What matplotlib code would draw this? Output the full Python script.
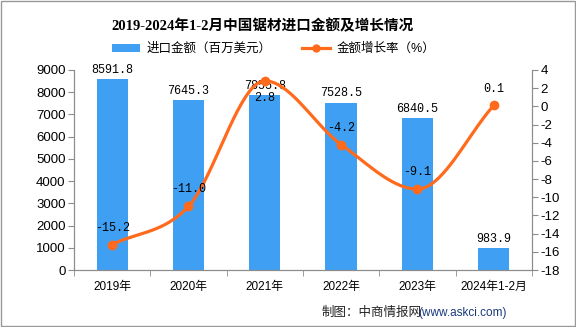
import numpy as np
import matplotlib
matplotlib.use("Agg")
import matplotlib.pyplot as plt
from matplotlib.patches import Patch, Rectangle
from matplotlib.lines import Line2D

plt.rcParams['font.family'] = ['Liberation Sans', 'Noto Sans CJK SC', 'DejaVu Sans']
plt.rcParams['axes.unicode_minus'] = False

categories = ["2019年", "2020年", "2021年", "2022年", "2023年", "2024年1-2月"]
import_value = [8591.8, 7645.3, 7855.8, 7528.5, 6840.5, 983.9]
growth_rate = [-15.2, -11.0, 2.8, -4.2, -9.1, 0.1]

BLUE = "#3f9ff2"
ORANGE = "#ff6a1c"
GRAY = "#8c8c8c"
MONO = ['Liberation Mono', 'Noto Sans CJK SC']


# smooth curve through the points, flat at local peaks/valleys
def smooth(xs, ys, n=40):
    xs = np.asarray(xs, float)
    ys = np.asarray(ys, float)
    m = np.zeros(len(ys))
    for i in range(len(ys)):
        if i == 0:
            m[i] = ys[1] - ys[0]
        elif i == len(ys) - 1:
            m[i] = ys[-1] - ys[-2]
        elif (ys[i] - ys[i - 1]) * (ys[i + 1] - ys[i]) <= 0:
            m[i] = 0
        else:
            m[i] = (ys[i + 1] - ys[i - 1]) / 2
    px, py = [], []
    for i in range(len(ys) - 1):
        t = np.linspace(0, 1, n)
        h00 = 2 * t**3 - 3 * t**2 + 1
        h10 = t**3 - 2 * t**2 + t
        h01 = -2 * t**3 + 3 * t**2
        h11 = t**3 - t**2
        px.extend(xs[i] + t * (xs[i + 1] - xs[i]))
        py.extend(h00 * ys[i] + h10 * m[i] + h01 * ys[i + 1] + h11 * m[i + 1])
    return np.array(px), np.array(py)


fig = plt.figure(figsize=(5.76, 3.27), dpi=100)
ax = fig.add_axes([0.1285, 0.1743, 0.795, 0.6117])
ax2 = ax.twinx()

x = np.arange(len(categories))
bars = ax.bar(x, import_value, width=0.41, color=BLUE, zorder=2)
for xi, v in zip(x, import_value):
    ax.text(xi, v + 150, f"{v:.1f}", ha='center', va='bottom', fontsize=8.5,
            family=MONO, color='black')

sx, sy = smooth(x, growth_rate)
ax2.plot(sx, sy, color=ORANGE, lw=2.3, zorder=3, solid_capstyle='round')
ax2.plot(x, growth_rate, 'o', color=ORANGE, ms=6, zorder=4)
for xi, v in zip(x, growth_rate):
    if v == 2.8:
        ax2.text(xi, v - 1.2, f"{v:.1f}", ha='center', va='top', fontsize=8.5,
                 family=MONO, color='black')
    else:
        ax2.text(xi, v + 1.2, f"{v:.1f}", ha='center', va='bottom', fontsize=8.5,
                 family=MONO, color='black')

ax.set_xlim(-0.5, len(categories) - 0.5)
ax.set_ylim(0, 9000)
ax.set_yticks(np.arange(0, 9001, 1000))
ax2.set_ylim(-18, 4)
ax2.set_yticks(np.arange(-18, 5, 2))

ax.set_xticks(x)
ax.set_xticklabels(categories, fontsize=8.5)
ax.set_xticks(np.arange(-0.5, len(categories), 1), minor=True)
ax.tick_params(axis='x', which='major', length=0, pad=8)
ax.tick_params(axis='x', which='minor', length=4, color=GRAY)
ax.tick_params(axis='y', labelsize=9.5, length=4, color=GRAY, pad=2)
ax2.tick_params(axis='y', labelsize=9.5, length=4, color=GRAY, pad=2)

for a in (ax, ax2):
    for s in a.spines.values():
        s.set_color(GRAY)
    a.spines['top'].set_visible(False)

fig.text(0.455, 0.92, "2019-2024年1-2月中国锯材进口金额及增长情况", ha='center', va='center',
         fontsize=10.5, fontweight='bold', family=['Liberation Serif', 'Noto Sans CJK SC'])

handles = [Patch(facecolor=BLUE, edgecolor='none'),
           Line2D([0], [0], color=ORANGE, lw=2.3, marker='o', ms=5)]
fig.legend(handles, ["进口金额（百万美元）", "金额增长率（%）"], loc='center',
           bbox_to_anchor=(0.475, 0.85), ncol=2, frameon=False, fontsize=9,
           handlelength=2.2, handleheight=0.6, columnspacing=2.5, handletextpad=0.5)

fig.text(0.732, 0.042, "制图：中商情报网", ha='right', va='center', fontsize=9, color='#222222')
fig.text(0.88, 0.042, "(www.askci.com)", ha='right', va='center', fontsize=8.5, color='#1a3a7a')

fig.patches.append(Rectangle((0.002, 0.003), 0.996, 0.994, transform=fig.transFigure,
                             fill=False, edgecolor='#999999', lw=1))

fig.savefig("out.png", dpi=100)
